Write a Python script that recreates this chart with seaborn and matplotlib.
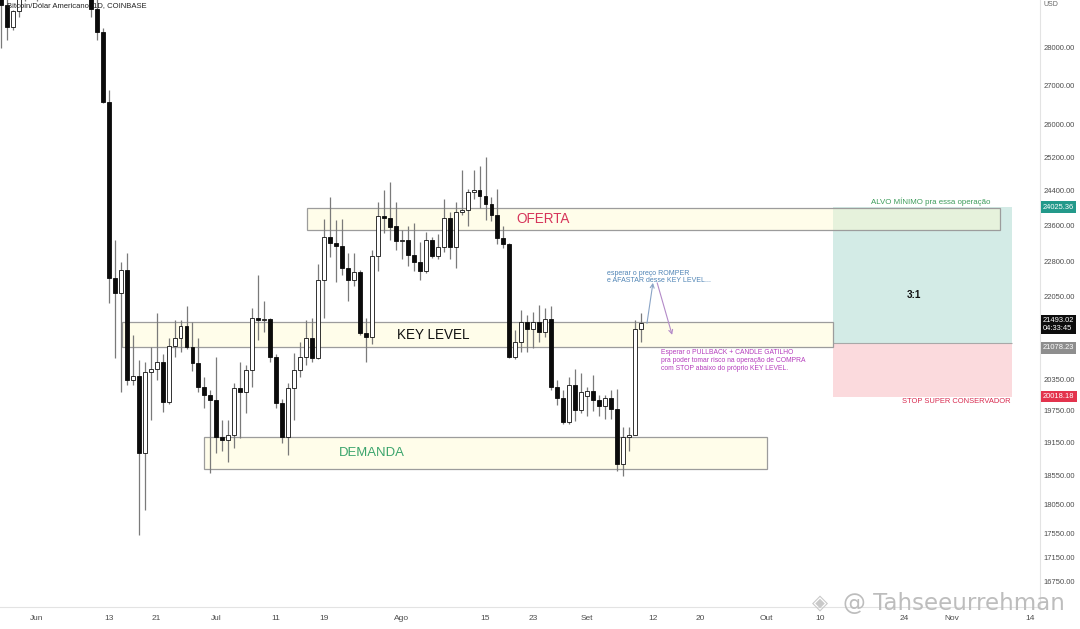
import numpy as np
import pandas as pd
import matplotlib
matplotlib.use("Agg")
import matplotlib.pyplot as plt
import matplotlib.dates as mdates
import matplotlib.ticker as mticker
from matplotlib.patches import Rectangle
from matplotlib.transforms import blended_transform_factory
from matplotlib import font_manager
import seaborn as sns

# ---------------- data ----------------
dates = pd.date_range("2022-05-26", "2022-09-10", freq="D")
opens = [29540, 29190, 28580, 29000, 29450, 31720,
         31790, 29800, 30450, 29700, 29860, 29900, 31370, 31130, 30200, 30110,
         29080, 28420, 26570, 22440, 22120, 22620, 20350, 20420, 18960, 20500,
         20560, 20700, 19920, 21020, 21190, 21430, 21000, 20680, 20210, 20050,
         19960, 19250, 19210, 19290, 20190, 20110, 20540, 21600, 21550, 21580,
         20800, 19900, 19260, 20190, 20540, 20800, 21190, 20780, 22400, 23340,
         23200, 23130, 22660, 22400, 22570, 21290, 21200, 22920, 23820, 23770, 23600,
         23250, 23280, 22940, 22780, 22600, 23280, 22910, 23120, 23780, 23120,
         23900, 23960, 24380, 24430, 24290, 24090, 23850, 23320, 23180, 20800,
         21100, 21500, 21370, 21500, 21300, 21570, 20210, 20000, 19530, 20250, 19770,
         20030, 20130, 19950, 19830, 19990, 19790, 18760, 19250, 19300, 21360]
highs = [29850, 29380, 29050, 29520, 32200, 32390,
         31980, 30650, 30680, 29950, 30170, 31750, 31550, 31330, 30690, 30330,
         29440, 28550, 26880, 23280, 22780, 22990, 21250, 20740, 20700, 21000,
         21700, 20850, 21190, 21550, 21550, 21850, 21500, 21180, 20400, 20150,
         20800, 19580, 19580, 20290, 20700, 20640, 21810, 22500, 21950, 21600,
         20850, 19980, 20290, 20880, 21100, 21550, 21600, 22750, 23750, 24250,
         23730, 23750, 22990, 22990, 22620, 21600, 23050, 24150, 24430, 24620, 24150,
         23500, 23600, 23650, 23230, 23450, 23350, 23400, 24200, 23900, 24150,
         24900, 24450, 24900, 25000, 25200, 24250, 24450, 23600, 23200, 21350,
         21760, 21650, 21720, 21860, 21800, 21850, 20350, 20150, 20400, 20550, 20480,
         20200, 20440, 20050, 20050, 20150, 20170, 19450, 19450, 21550, 21700]
lows = [28000, 28200, 28480, 28850, 29300, 31200,
        29300, 29580, 29400, 29460, 29510, 29880, 29400, 29850, 29960, 28850,
        28200, 26560, 21900, 20780, 20100, 20240, 20250, 17520, 17950, 19580,
        20350, 19730, 19870, 20800, 20900, 20950, 20520, 20100, 19800, 18600,
        18960, 19000, 18800, 19060, 19240, 19710, 20210, 21140, 21300, 20700,
        19800, 19150, 18930, 19580, 20400, 20640, 20700, 20760, 21600, 22900,
        22360, 22500, 21950, 22260, 21250, 20700, 21050, 22600, 23430, 23280, 23050,
        22850, 22700, 22600, 22400, 22550, 22870, 22850, 23000, 22850, 22650,
        23850, 23600, 24200, 24000, 23730, 23700, 23180, 23100, 20780, 20750,
        20900, 20900, 20980, 21100, 21200, 20150, 19850, 19500, 19500, 19550, 19700,
        19650, 19750, 19650, 19600, 19600, 18630, 18540, 19000, 19300, 21100]
closes = [29190, 28580, 29000, 29450, 31720, 31790,
          29800, 30450, 29700, 29860, 29900, 31370, 31130, 30200, 30110, 29080,
          28420, 26570, 22440, 22120, 22620, 20350, 20420, 18960, 20500, 20560,
          20700, 19920, 21020, 21190, 21430, 21000, 20680, 20210, 20050, 19960,
          19250, 19210, 19290, 20190, 20110, 20540, 21600, 21550, 21580, 20800,
          19900, 19260, 20190, 20540, 20800, 21190, 20780, 22400, 23340, 23200,
          23130, 22660, 22400, 22570, 21290, 21200, 22920, 23820, 23770, 23570, 23250,
          23280, 22940, 22780, 22600, 23280, 22910, 23120, 23780, 23120, 23900,
          23960, 24380, 24430, 24290, 24090, 23850, 23320, 23180, 20800, 21100,
          21500, 21370, 21500, 21300, 21570, 20210, 20000, 19530, 20250, 19770, 20110,
          20130, 19950, 19830, 19990, 19790, 18760, 19250, 19300, 21360, 21493.02]

xtick_dates = ["2022-06-01", "2022-06-13", "2022-06-21", "2022-07-01", "2022-07-11",
               "2022-07-19", "2022-08-01", "2022-08-15", "2022-08-23", "2022-09-01",
               "2022-09-12", "2022-09-20", "2022-10-01", "2022-10-10", "2022-10-24",
               "2022-11-01", "2022-11-14"]
xtick_labels = ["Jun", "13", "21", "Jul", "11", "19", "Ago", "15", "23", "Set",
                "12", "20", "Out", "10", "24", "Nov", "14"]
ytick_values = [28000, 27000, 26000, 25200, 24400, 23600, 22800, 22050,
                20350, 19750, 19150, 18550, 18050, 17550, 17150, 16750]

zone_names = ["OFERTA", "KEY LEVEL", "DEMANDA"]
zone_start = ["2022-07-16 05:00", "2022-06-15 05:00", "2022-06-28 22:00"]
zone_end = ["2022-11-09 00:00", "2022-10-12 03:00", "2022-10-01 02:00"]
zone_low = [23500, 21000, 18680]
zone_high = [24000, 21500, 19250]

pos_start, pos_end = "2022-10-12 03:00", "2022-11-11 00:00"
entry_price, target_price, stop_price = 21078.23, 24025.36, 20018.18
last_price, countdown = 21493.02, "04:33:45"

# ---------------- style ----------------
sns.set_theme(style="white")
names = {f.name for f in font_manager.fontManager.ttflist}
if "Liberation Sans Narrow" in names:
    FAM, k = "Liberation Sans Narrow", 1.0
elif "Liberation Sans" in names:
    FAM, k = "Liberation Sans", 0.84
else:
    FAM, k = "DejaVu Sans", 0.74
plt.rcParams["font.family"] = [FAM, "DejaVu Sans"]

W, H = 1080, 629
fig = plt.figure(figsize=(W / 100, H / 100), dpi=100)
ax = fig.add_axes([0, 22 / H, 1040 / W, 607 / H])

xn = mdates.date2num(dates)
o = np.array(opens, float); c = np.array(closes, float)
hi = np.array(highs, float); lo = np.array(lows, float)
up = c >= o


def dn(s):
    return mdates.date2num(pd.Timestamp(s))


# zones (behind candles)
for nm, s, e, l, h in zip(zone_names, zone_start, zone_end, zone_low, zone_high):
    ax.add_patch(Rectangle((dn(s), l), dn(e) - dn(s), h - l,
                           facecolor=(1.0, 0.985, 0.82, 0.45), edgecolor="#9c9c9c",
                           lw=0.9, zorder=3))

# position tool
ps, pe = dn(pos_start), dn(pos_end)
ax.add_patch(Rectangle((ps, entry_price), pe - ps, target_price - entry_price,
                       facecolor="#d3ebe6", edgecolor="none", zorder=1))
ax.add_patch(Rectangle((ps, stop_price), pe - ps, entry_price - stop_price,
                       facecolor="#fbdadd", edgecolor="none", zorder=1))
ax.hlines(entry_price, ps, pe, color="#a8a8a8", lw=0.8, zorder=2)

# candles
ax.vlines(xn, lo, hi, color="#7a7a7a", lw=0.9, zorder=4)
bw = 0.66
ax.bar(xn[up], (c - o)[up], bottom=o[up], width=bw, color="white",
       edgecolor="#111111", lw=0.6, zorder=5)
ax.bar(xn[~up], (o - c)[~up], bottom=c[~up], width=bw, color="#0b0b0b",
       edgecolor="#0b0b0b", lw=0.6, zorder=5)

# axes setup
base = dn("2022-06-01")
ax.set_xlim(base - 37 / 5.98, base + (1040 - 37) / 5.98)
ax.set_yscale("log")
ax.set_ylim(16351, 29320)
ax.yaxis.set_major_locator(mticker.FixedLocator(ytick_values))
ax.yaxis.set_major_formatter(mticker.FuncFormatter(lambda v, p: f"{v:.2f}"))
ax.yaxis.set_minor_locator(mticker.NullLocator())
ax.yaxis.tick_right()
ax.set_xticks([dn(d) for d in xtick_dates])
ax.set_xticklabels(xtick_labels)
ax.xaxis.set_minor_locator(mticker.NullLocator())
ax.tick_params(axis="y", length=0, pad=2.5, labelsize=6.6 * k, labelcolor="#4d4d4d")
ax.tick_params(axis="x", length=0, pad=6, labelsize=7.2 * k, labelcolor="#4d4d4d")
for side in ["top", "left"]:
    ax.spines[side].set_visible(False)
for side in ["right", "bottom"]:
    ax.spines[side].set_color("#e3e3e3")
    ax.spines[side].set_linewidth(0.8)
ax.grid(False)
ax.set_facecolor("white")


def gmid(a, b):
    return float(np.sqrt(a * b))


# zone labels
ax.text(dn("2022-08-24 14:00"), gmid(zone_low[0], zone_high[0]), "OFERTA",
        color="#d6345a", fontsize=11.6 * k, ha="center", va="center", zorder=7)
ax.text(dn("2022-08-06 05:00"), gmid(zone_low[1], zone_high[1]), "KEY LEVEL",
        color="#111111", fontsize=11.6 * k, ha="center", va="center", zorder=7)
ax.text(dn("2022-07-26 22:00"), gmid(zone_low[2], zone_high[2]), "DEMANDA",
        color="#3aa46c", fontsize=11.2 * k, ha="center", va="center", zorder=7)

# position labels
ax.text(dn("2022-10-25 17:00"), 22080, "3:1", color="#111111", fontsize=8.5 * k,
        fontweight="bold", ha="center", va="center", zorder=7)
ax.text(dn("2022-10-28 12:00"), target_price * 1.001, "ALVO MÍNIMO pra essa operação",
        color="#3c9c5a", fontsize=6.8 * k, ha="center", va="bottom", zorder=7)
ax.text(dn("2022-11-01 19:00"), stop_price * 0.9985, "STOP SUPER CONSERVADOR",
        color="#d8294e", fontsize=6.4 * k, ha="center", va="top", zorder=7)

# strategy notes
ax.text(dn("2022-09-04 07:00"), 22460, "esperar o preço ROMPER\ne AFASTAR desse KEY LEVEL...",
        color="#4f84b5", fontsize=6.0 * k, ha="left", va="center", linespacing=1.15, zorder=7)
ax.text(dn("2022-09-13 08:00"), 20720,
        "Esperar o PULLBACK + CANDLE GATILHO\npra poder tomar risco na operação de COMPRA\ncom STOP abaixo do próprio KEY LEVEL.",
        color="#b53dbd", fontsize=5.8 * k, ha="left", va="center", linespacing=1.2, zorder=7)
ax.annotate("", xy=(dn("2022-09-12 00:00"), 22335), xytext=(dn("2022-09-11 00:00"), 21480),
            arrowprops=dict(arrowstyle="->", color="#8aa4c6", lw=0.8, shrinkA=0, shrinkB=0,
                            mutation_scale=7), zorder=7)
ax.annotate("", xy=(dn("2022-09-15 05:00"), 21245), xytext=(dn("2022-09-12 17:00"), 22335),
            arrowprops=dict(arrowstyle="->", color="#b38ac8", lw=0.8, shrinkA=0, shrinkB=0,
                            mutation_scale=7), zorder=7)

# price badges on the right scale
tr = blended_transform_factory(ax.transAxes, ax.transData)


def badge(price, text, fc, dy=0, va="center"):
    ax.annotate(text, xy=(1.0, price), xycoords=tr, xytext=(2.0, dy), textcoords="offset points",
                ha="left", va=va, fontsize=6.4 * k, color="white", annotation_clip=False,
                linespacing=1.2,
                bbox=dict(boxstyle="square,pad=0.3", fc=fc, ec="none"), zorder=10)


badge(target_price, f"{target_price:.2f}", "#23998a")
badge(last_price, f"{last_price:.2f}\n{countdown}", "#0d0d0d", dy=4.0, va="top")
badge(entry_price, f"{entry_price:.2f}", "#8e8e8e", dy=-3.5)
badge(stop_price, f"{stop_price:.2f}", "#e3334d")

# header / misc text
fig.text(7 / W, 1 - 6 / H, "Bitcoin/Dólar Americano, 1D, COINBASE", fontsize=6.5 * k,
         color="#222222", ha="left", va="center", zorder=0)
fig.text(1044 / W, 1 - 4 / H, "USD", fontsize=6 * k, color="#666666", ha="left", va="center")

# watermark
fig.text(820 / W, 1 - 603 / H, "◈", fontsize=15, color="#c9c9c9", ha="center", va="center",
         family="DejaVu Sans")
fig.text(843 / W, 1 - 604 / H, "@ Tahseeurrehman", fontsize=16.5, color="#bdbdbd",
         ha="left", va="center", family="DejaVu Sans")

fig.savefig("out.png", dpi=100)
